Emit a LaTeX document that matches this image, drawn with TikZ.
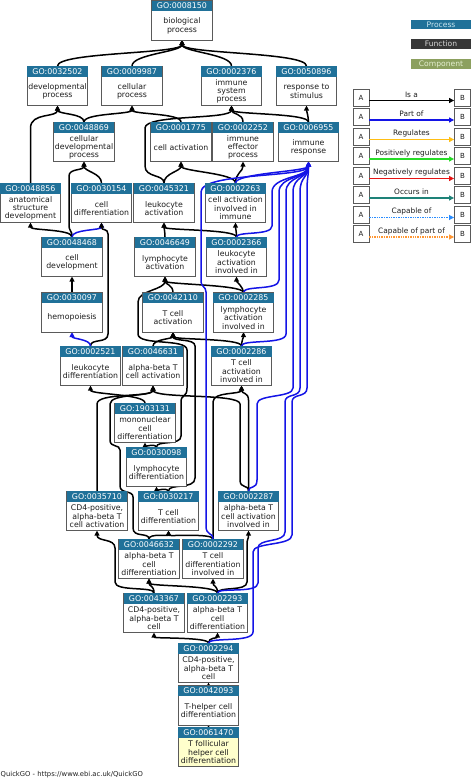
\documentclass[tikz,border=0pt]{standalone}
\usepackage{fontspec}
\setmainfont{DejaVu Sans}
\usetikzlibrary{arrows.meta,calc}
\definecolor{headblue}{RGB}{32,113,153}
\definecolor{boxgray}{RGB}{90,90,90}
\definecolor{txt}{RGB}{30,30,30}
\definecolor{partblue}{RGB}{20,20,230}
\definecolor{fnc}{RGB}{55,55,55}
\definecolor{cmp}{RGB}{140,160,95}
\definecolor{regc}{RGB}{255,190,20}
\definecolor{posc}{RGB}{40,220,40}
\definecolor{negc}{RGB}{230,20,20}
\definecolor{occc}{RGB}{30,130,120}
\definecolor{capc}{RGB}{40,140,255}
\definecolor{cappc}{RGB}{255,150,50}
\definecolor{hl}{RGB}{255,255,204}
\pgfdeclarelayer{bg}
\pgfsetlayers{bg,main}
\newcommand{\goterm}[6][white]{%
  \node[gobox,fill=#1] (#2) at (#3,#4) {};
  \node[gohead] (#2h) at (#2.north) {GO:#5};
  \node[golabel] (#2t) at ($(#2.north)+(0,25.3)$) {#6};
}
\newcommand{\sedge}[4][isa]{\draw[#1] (#2.north) .. controls +(0,-#4) and +(0,#4) .. (#3.south);}
\begin{document}
\begin{tikzpicture}[x=1pt,y=-1pt,
  gobox/.style={draw=boxgray, line width=0.7pt, minimum width=60.5pt, minimum height=39.5pt, anchor=north, inner sep=0pt, outer sep=0pt},
  gohead/.style={fill=headblue, anchor=north, minimum width=60.5pt, minimum height=10.5pt, inner sep=0pt, text=white, font=\fontsize{7.9}{8}\selectfont},
  golabel/.style={align=center, inner sep=0pt, text=txt, font=\fontsize{7.8}{8.3}\selectfont},
  isa/.style={draw=black, line width=1.5pt, -{Triangle[length=5pt,width=4.8pt]}},
  partof/.style={isa, draw=partblue},
  legkey/.style={minimum width=60pt, minimum height=9.5pt, inner sep=0pt, font=\fontsize{7.6}{8}\selectfont},
  abox/.style={draw=boxgray, line width=0.7pt, fill=white, minimum width=16pt, minimum height=17pt, inner sep=0pt, text=txt, font=\fontsize{7}{8}\selectfont},
  leglab/.style={inner sep=0pt, text=txt, font=\fontsize{7.4}{8}\selectfont},
  legarrow/.style={line width=1.4pt, -{Triangle[length=5pt,width=4.8pt]}}
]
\useasboundingbox (0,0) rectangle (474,779);

% ---------- GO terms ----------
\goterm{n8150}{182}{0.5}{0008150}{biological\\process}
\goterm{n32502}{57.5}{66}{0032502}{developmental\\process}
\goterm{n9987}{132}{66}{0009987}{cellular\\process}
\goterm{n2376}{231.5}{66}{0002376}{immune\\system\\process}
\goterm{n50896}{306.5}{66}{0050896}{response to\\stimulus}
\goterm{n48869}{84}{122}{0048869}{cellular\\developmental\\process}
\goterm{n1775}{181}{122}{0001775}{cell activation}
\goterm{n2252}{243}{122}{0002252}{immune\\effector\\process}
\goterm{n6955}{308.5}{122}{0006955}{immune\\response}
\goterm{n48856}{30.5}{183}{0048856}{anatomical\\structure\\development}
\goterm{n30154}{101.5}{183}{0030154}{cell\\differentiation}
\goterm{n45321}{164}{183}{0045321}{leukocyte\\activation}
\goterm{n2263}{235.5}{183}{0002263}{cell activation\\involved in\\immune}
\goterm{n48468}{72}{237}{0048468}{cell\\development}
\goterm{n46649}{165}{237}{0046649}{lymphocyte\\activation}
\goterm{n2366}{236.5}{237}{0002366}{leukocyte\\activation\\involved in}
\goterm{n30097}{72}{292.5}{0030097}{hemopoiesis}
\goterm{n42110}{173}{292.5}{0042110}{T cell\\activation}
\goterm{n2285}{243.5}{292.5}{0002285}{lymphocyte\\activation\\involved in}
\goterm{n2521}{90.5}{346}{0002521}{leukocyte\\differentiation}
\goterm{n46631}{153}{346}{0046631}{alpha-beta T\\cell activation}
\goterm{n2286}{241.5}{346}{0002286}{T cell\\activation\\involved in}
\goterm{n1903131}{145}{403}{1903131}{mononuclear\\cell\\differentiation}
\goterm{n30098}{156.5}{447}{0030098}{lymphocyte\\differentiation}
\goterm{n35710}{97}{491}{0035710}{CD4-positive,\\alpha-beta T\\cell activation}
\goterm{n30217}{168.5}{491}{0030217}{T cell\\differentiation}
\goterm{n2287}{248.5}{491}{0002287}{alpha-beta T\\cell activation\\involved in}
\goterm{n46632}{149}{539}{0046632}{alpha-beta T\\cell\\differentiation}
\goterm{n2292}{213}{539}{0002292}{T cell\\differentiation\\involved in}
\goterm{n43367}{154}{593}{0043367}{CD4-positive,\\alpha-beta T\\cell}
\goterm{n2293}{217.5}{593}{0002293}{alpha-beta T\\cell\\differentiation}
\goterm{n2294}{208.5}{643}{0002294}{CD4-positive,\\alpha-beta T\\cell}
\goterm{n42093}{208.5}{685.5}{0042093}{T-helper cell\\differentiation}
\goterm[hl]{n61470}{208.5}{727}{0061470}{T follicular\\helper cell\\differentiation}

% ---------- edges ----------
\begin{pgfonlayer}{bg}
\sedge{n32502}{n8150}{14}
\sedge{n9987}{n8150}{12}
\sedge{n2376}{n8150}{12}
\sedge{n50896}{n8150}{14}
\sedge{n48869}{n32502}{9}
\sedge{n48869}{n9987}{9}
\sedge{n1775}{n9987}{9}
\sedge{n2252}{n2376}{9}
\sedge{n6955}{n2376}{9}
\sedge{n6955}{n50896}{5}
\draw[isa] (n48856.north) -- (30.5,128) .. controls (30.5,112) and (57.5,118) .. (n32502.south);
\draw[isa] (n45321.north) .. controls (164,174) and (145,178) .. (145,166) -- (145,128) .. controls (145,114) and (231.5,120) .. (n2376.south);
\sedge{n30154}{n48869}{10}
\draw[isa] (n48468.north) .. controls (72,229) and (69,233) .. (69,224) -- (69,176) .. controls (69,168) and (84,171) .. (n48869.south);
\sedge{n48468}{n48856}{8}
\sedge[partof]{n48468}{n30154}{8}
\sedge{n45321}{n1775}{10}
\sedge{n2263}{n1775}{10}
\sedge{n2263}{n2252}{10}
\sedge{n46649}{n45321}{5}
\sedge{n2366}{n45321}{8}
\sedge{n2366}{n2263}{5}
\sedge{n30097}{n48468}{5}
\sedge{n42110}{n46649}{8}
\sedge{n2285}{n46649}{8}
\sedge{n2285}{n2366}{5}
\draw[isa] (n2521.north) .. controls (90.5,338) and (108,344) .. (108,334) -- (108,234) .. controls (108,228) and (101.5,231) .. (n30154.south);
\sedge[partof]{n2521}{n30097}{7}
\draw[isa] (n30098.north) .. controls (156.5,440) and (181,446) .. (181,436) -- (181,402) .. controls (181,394) and (187,398) .. (187,388) -- (187,350) .. controls (187,338) and (138,346) .. (138,334) -- (138,302) .. controls (138,290) and (165,290) .. (n46649.south);
\draw[isa] (n30217.north) .. controls (168.5,483) and (195,490) .. (195,478) -- (195,346) .. controls (195,338) and (173,342) .. (n42110.south);
\sedge{n46631}{n42110}{7}
\sedge{n2286}{n42110}{8}
\sedge{n2286}{n2285}{5}
\sedge{n1903131}{n2521}{9}
\draw[isa] (n35710.north) -- (97,404) .. controls (97,392) and (153,398) .. (n46631.south);
\draw[isa] (n46632.north) .. controls (149,532) and (133,538) .. (133,528) -- (133,497) .. controls (133,490) and (120,494) .. (120,486) -- (120,450) .. controls (120,444) and (110,448) .. (110,440) -- (110,404) .. controls (110,393) and (153,397) .. (n46631.south);
\sedge{n30098}{n1903131}{3}
\sedge{n30217}{n30098}{3}
\draw[isa] (n2287.north) .. controls (248.5,484) and (240,489) .. (240,480) -- (240,404) .. controls (240,393) and (153,399) .. (n46631.south);
\draw[isa] (n2287.north) -- (248.5,400) .. controls (248.5,392) and (241.5,394) .. (n2286.south);
\draw[isa] (n2292.north) -- (213,402) .. controls (213,391) and (241.5,395) .. (n2286.south);
\sedge{n2292}{n30217}{6}
\sedge{n46632}{n30217}{6}
\sedge{n43367}{n46632}{8}
\draw[isa] (n43367.north) .. controls (154,586) and (115,592) .. (115,582) -- (115,548) .. controls (115,538) and (97,542) .. (n35710.south);
\sedge{n2293}{n46632}{8}
\sedge{n2293}{n2292}{8}
\draw[isa] (n2293.north) .. controls (217.5,586) and (247,592) .. (247,582) -- (247,545) .. controls (247,538) and (248.5,540) .. (n2287.south);
\sedge{n2294}{n43367}{6}
\sedge{n2294}{n2293}{6}
\draw[isa] (n42093.north) -- (n2294.south);
\draw[isa] (n61470.north) -- (n42093.south);
% part_of immune response
\sedge[partof]{n2263}{n6955}{10}
\draw[partof] (n2366.north) .. controls (236.5,231) and (272,236) .. (272,226) -- (272,192) .. controls (272,176) and (308.5,178) .. (n6955.south);
\draw[partof] (n2285.north) .. controls (243.5,285) and (279,291) .. (279,280) -- (279,192) .. controls (279,176) and (308.5,178) .. (n6955.south);
\draw[partof] (n2286.north) .. controls (241.5,339) and (286,345) .. (286,334) -- (286,192) .. controls (286,176) and (308.5,178) .. (n6955.south);
\draw[partof] (n2287.north) .. controls (248.5,485) and (257,490) .. (257,480) -- (257,404) .. controls (257,394) and (293,398) .. (293,388) -- (293,192) .. controls (293,176) and (308.5,178) .. (n6955.south);
\draw[partof] (n2293.north) .. controls (217.5,587) and (258,594) .. (258,583) -- (258,548) .. controls (258,538) and (285,543) .. (285,532) -- (285,402) .. controls (285,393) and (300,398) .. (300,388) -- (300,192) .. controls (300,176) and (308.5,178) .. (n6955.south);
\draw[partof] (n2294.north) .. controls (208.5,637) and (253,643) .. (253,632) -- (253,552) .. controls (253,542) and (292,546) .. (292,535) -- (292,402) .. controls (292,393) and (307,398) .. (307,388) -- (307,192) .. controls (307,176) and (308.5,178) .. (n6955.south);
\draw[partof] (n2292.north) .. controls (213,532) and (206,536) .. (206,526) -- (206,292) .. controls (206,286) and (201,288) .. (201,280) -- (201,192) .. controls (201,172) and (308.5,178) .. (n6955.south);
\end{pgfonlayer}

% ---------- legend ----------
\node[legkey, fill=headblue, text={rgb,255:red,200;green,230;blue,240}] (kproc) at (441,24.5) {Process};
\node[legkey, fill=fnc, text={rgb,255:red,215;green,215;blue,215}] (kfunc) at (441,44) {Function};
\node[legkey, fill=cmp, text={rgb,255:red,230;green,240;blue,210}] (kcomp) at (441,64) {Component};

\node[abox] (la1) at (361,97.5) {A};   \node[abox] (lb1) at (462.5,97.5) {B};
\node[abox] (la2) at (361,117) {A};    \node[abox] (lb2) at (462.5,117) {B};
\node[abox] (la3) at (361,136.5) {A};  \node[abox] (lb3) at (462.5,136.5) {B};
\node[abox] (la4) at (361,156) {A};    \node[abox] (lb4) at (462.5,156) {B};
\node[abox] (la5) at (361,175.5) {A};  \node[abox] (lb5) at (462.5,175.5) {B};
\node[abox] (la6) at (361,195) {A};    \node[abox] (lb6) at (462.5,195) {B};
\node[abox] (la7) at (361,214.5) {A};  \node[abox] (lb7) at (462.5,214.5) {B};
\node[abox] (la8) at (361,234) {A};    \node[abox] (lb8) at (462.5,234) {B};

\draw[legarrow, draw=black] ($(la1.east)+(0,3)$) -- ($(lb1.west)+(0,3)$);
\draw[legarrow, draw=partblue] ($(la2.east)+(0,3)$) -- ($(lb2.west)+(0,3)$);
\draw[legarrow, draw=regc] ($(la3.east)+(0,3)$) -- ($(lb3.west)+(0,3)$);
\draw[legarrow, draw=posc] ($(la4.east)+(0,3)$) -- ($(lb4.west)+(0,3)$);
\draw[legarrow, draw=negc] ($(la5.east)+(0,3)$) -- ($(lb5.west)+(0,3)$);
\draw[legarrow, draw=occc] ($(la6.east)+(0,3)$) -- ($(lb6.west)+(0,3)$);
\draw[legarrow, draw=capc, densely dotted, line width=1.1pt] ($(la7.east)+(0,3)$) -- ($(lb7.west)+(0,3)$);
\draw[legarrow, draw=cappc, densely dotted, line width=1.1pt] ($(la8.east)+(0,3)$) -- ($(lb8.west)+(0,3)$);

\node[leglab] (t1) at (411.5,94.5) {Is a};
\node[leglab] (t2) at (411.5,114) {Part of};
\node[leglab] (t3) at (411.5,133.5) {Regulates};
\node[leglab] (t4) at (411.5,153) {Positively regulates};
\node[leglab] (t5) at (411.5,172.5) {Negatively regulates};
\node[leglab] (t6) at (411.5,192) {Occurs in};
\node[leglab] (t7) at (411.5,211.5) {Capable of};
\node[leglab] (t8) at (411.5,231) {Capable of part of};

\node[anchor=west, inner sep=0pt, text=txt, font=\fontsize{6.8}{7}\selectfont] (foot) at (0.5,774.5) {QuickGO - https://www.ebi.ac.uk/QuickGO};
\end{tikzpicture}
\end{document}
